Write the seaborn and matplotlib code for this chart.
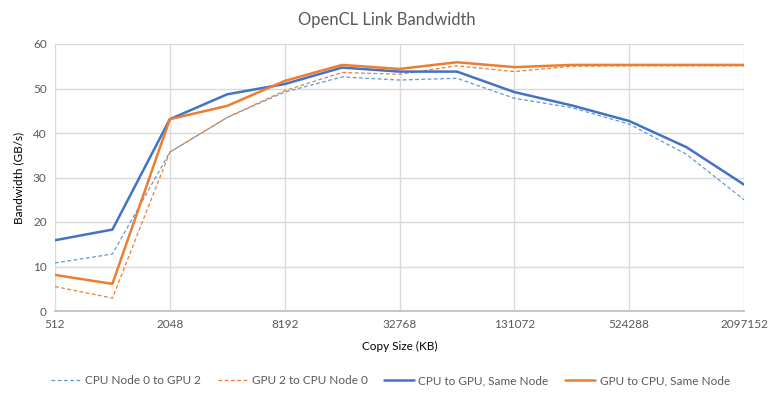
import numpy as np
import pandas as pd
import matplotlib
matplotlib.use("Agg")
import matplotlib.pyplot as plt
import seaborn as sns

# copy sizes in KB
copy_sizes = [512, 1024, 2048, 4096, 8192, 16384, 32768, 65536,
              131072, 262144, 524288, 1048576, 2097152]
tick_sizes = [512, 2048, 8192, 32768, 131072, 524288, 2097152]

cpu0_to_gpu2 = [10.8, 12.8, 35.7, 43.5, 49.2, 52.6, 51.9, 52.3, 47.8, 45.7, 42.0, 35.2, 25.0]
gpu2_to_cpu0 = [5.5, 2.9, 35.7, 43.5, 49.5, 53.6, 53.2, 55.1, 53.8, 55.0, 55.1, 55.1, 55.1]
cpu_to_gpu_same = [15.9, 18.3, 43.1, 48.7, 51.0, 54.7, 53.8, 53.8, 49.2, 46.2, 42.7, 36.8, 28.4]
gpu_to_cpu_same = [8.1, 6.1, 43.1, 46.1, 51.7, 55.3, 54.4, 55.9, 54.8, 55.3, 55.3, 55.3, 55.3]

series_names = ["CPU Node 0 to GPU 2", "GPU 2 to CPU Node 0",
                "CPU to GPU, Same Node", "GPU to CPU, Same Node"]
series_values = [cpu0_to_gpu2, gpu2_to_cpu0, cpu_to_gpu_same, gpu_to_cpu_same]

df = pd.concat([
    pd.DataFrame({"size": copy_sizes, "bw": vals, "series": name})
    for name, vals in zip(series_names, series_values)
])

sns.set_theme(style="white")
plt.rcParams["font.family"] = ["Lato", "DejaVu Sans"]

fig = plt.figure(figsize=(7.73, 3.94), dpi=100)
ax = fig.add_axes([55 / 773, 1 - 311 / 394, (744 - 55) / 773, (311 - 44) / 394])

styles = {
    "CPU Node 0 to GPU 2": dict(color="#5B9BD5", linewidth=0.9, linestyle=(0, (3, 2))),
    "GPU 2 to CPU Node 0": dict(color="#ED7D31", linewidth=0.9, linestyle=(0, (3, 2))),
    "CPU to GPU, Same Node": dict(color="#4472C4", linewidth=1.8, linestyle="-"),
    "GPU to CPU, Same Node": dict(color="#ED7D31", linewidth=1.8, linestyle="-"),
}
for name in series_names:
    sns.lineplot(data=df[df["series"] == name], x="size", y="bw", ax=ax,
                 label=name, **styles[name])

ax.set_xscale("log", base=2)
ax.set_xlim(copy_sizes[0], copy_sizes[-1])
ax.set_ylim(0, 60)
ax.set_xticks(tick_sizes)
ax.set_xticklabels([str(t) for t in tick_sizes])
ax.xaxis.set_minor_locator(matplotlib.ticker.NullLocator())
ax.set_yticks(range(0, 61, 10))

ax.grid(True, color="#D9D9D9", linewidth=1)
for s in ["top", "right", "left"]:
    ax.spines[s].set_visible(False)
ax.spines["bottom"].set_color("#BFBFBF")
ax.tick_params(axis="both", colors="#595959", labelsize=8.5, length=0, pad=6)

ax.set_xlabel("Copy Size (KB)", fontsize=8.5, color="#000000", labelpad=8)
ax.set_ylabel("Bandwidth (GB/s)", fontsize=8.5, color="#000000", labelpad=6)
fig.suptitle("OpenCL Link Bandwidth", fontsize=12, color="#595959", y=0.97)

ax.get_legend().remove()
handles, labels = ax.get_legend_handles_labels()
fig.legend(handles, labels, loc="center", bbox_to_anchor=(0.505, 1 - 381 / 394),
           ncol=4, frameon=False, fontsize=8.5, labelcolor="#595959",
           handlelength=2.5, handletextpad=0.4, columnspacing=1.4)

fig.savefig("out.png", dpi=100)
